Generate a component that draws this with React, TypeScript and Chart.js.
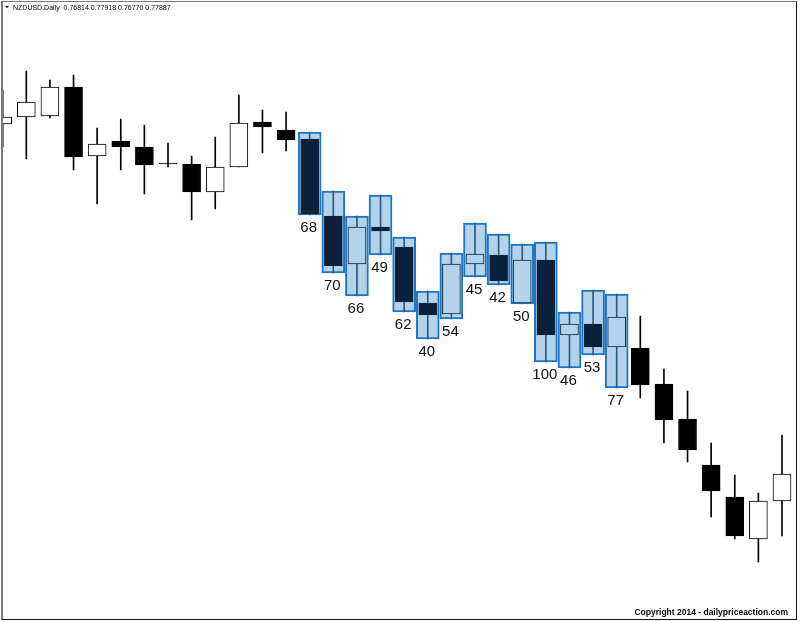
import React, { useEffect, useRef } from "react";
import { Chart, registerables } from "chart.js";

Chart.register(...registerables);

// 34 daily bars, NZDUSD
const days = [
  "1", "2", "3", "4", "5", "6", "7", "8", "9", "10", "11", "12", "13", "14", "15", "16", "17",
  "18", "19", "20", "21", "22", "23", "24", "25", "26", "27", "28", "29", "30", "31", "32", "33", "34",
];

const opens = [
  0.8492, 0.8506, 0.8508, 0.8566, 0.8428, 0.8458, 0.8446, 0.8414, 0.8412, 0.8356, 0.8406, 0.8496,
  0.848, 0.8462, 0.8308, 0.8212, 0.8286, 0.8246, 0.8134, 0.8112, 0.8212, 0.823, 0.8134, 0.822,
  0.807, 0.8092, 0.8046, 0.8044, 0.7972, 0.7902, 0.781, 0.7746, 0.7662, 0.7738,
];
const highs = [
  0.856, 0.8598, 0.858, 0.859, 0.8484, 0.8502, 0.849, 0.8454, 0.8428, 0.8466, 0.855, 0.852,
  0.8516, 0.8476, 0.8358, 0.8308, 0.835, 0.8266, 0.8158, 0.8234, 0.8294, 0.8272, 0.8252, 0.8256,
  0.8116, 0.816, 0.8152, 0.8108, 0.8002, 0.7958, 0.7854, 0.779, 0.7754, 0.787,
];
const lows = [
  0.8446, 0.8422, 0.8504, 0.84, 0.8332, 0.84, 0.8352, 0.8406, 0.83, 0.8322, 0.8406, 0.8434,
  0.8438, 0.831, 0.8194, 0.8148, 0.823, 0.8116, 0.8062, 0.8102, 0.8186, 0.817, 0.8132, 0.8016,
  0.8004, 0.803, 0.7964, 0.7944, 0.7854, 0.7816, 0.7706, 0.7662, 0.7616, 0.7668,
];
const closes = [
  0.8506, 0.8536, 0.8566, 0.8426, 0.8452, 0.8446, 0.841, 0.8412, 0.8356, 0.8406, 0.8494, 0.8486,
  0.846, 0.8312, 0.8208, 0.8286, 0.8278, 0.8136, 0.811, 0.8212, 0.8232, 0.8178, 0.822, 0.807,
  0.8092, 0.8046, 0.8106, 0.797, 0.79, 0.784, 0.7758, 0.7668, 0.7738, 0.7792,
];

// numbers written under the highlighted bars
const counts: (number | null)[] = [
  null, null, null, null, null, null, null, null, null, null, null, null, null,
  68, 70, 66, 49, 62, 40, 54, 45, 42, 50, 100, 46, 53, 77,
  null, null, null, null, null, null, null,
];

const priceMin = 0.7496;
const priceMax = 0.874;

const BOX_FILL = "#b3d3ea";
const BOX_EDGE = "#1f74c6";

const countLabels = {
  id: "countLabels",
  afterDatasetsDraw(chart: Chart) {
    const { ctx, scales } = chart;
    ctx.save();
    ctx.font = '15px "Liberation Sans", Arial, sans-serif';
    ctx.fillStyle = "#111";
    ctx.textAlign = "center";
    ctx.textBaseline = "alphabetic";
    counts.forEach((c, i) => {
      if (c == null) return;
      const x = scales.x.getPixelForValue(i) - 1;
      const y = scales.y.getPixelForValue(lows[i]) + 17;
      ctx.fillText(String(c), x, y);
    });
    ctx.restore();
  },
};

function CandleChart() {
  const chartRef = useRef<HTMLCanvasElement>(null);

  useEffect(() => {
    const ctx = chartRef.current?.getContext("2d");
    if (!ctx) return;

    const marked = (i: number) => counts[i] != null;
    const bull = (i: number) => closes[i] >= opens[i];
    const clip = { left: 1, top: false, right: false, bottom: false } as any;

    const chart = new Chart(ctx, {
      type: "bar",
      data: {
        labels: days,
        datasets: [
          {
            label: "body",
            data: days.map((_, i) => [Math.min(opens[i], closes[i]), Math.max(opens[i], closes[i])]) as any,
            barThickness: 18,
            grouped: false,
            order: 1,
            clip,
            borderSkipped: false,
            borderWidth: 1,
            backgroundColor: days.map((_, i) =>
              bull(i) ? (marked(i) ? BOX_FILL : "#ffffff") : marked(i) ? "#0b2039" : "#000000"
            ),
            borderColor: days.map((_, i) => (marked(i) ? "#13263a" : "#000000")),
          },
          {
            label: "wick",
            data: days.map((_, i) => [lows[i], highs[i]]) as any,
            barThickness: 1,
            grouped: false,
            order: 2,
            clip,
            borderWidth: 0,
            backgroundColor: days.map((_, i) => (marked(i) ? "#2d5a80" : "#000000")),
          },
          {
            label: "box",
            data: days.map((_, i) => (marked(i) ? [lows[i], highs[i]] : null)) as any,
            barThickness: 23,
            grouped: false,
            order: 3,
            clip,
            borderSkipped: false,
            borderWidth: 2,
            backgroundColor: BOX_FILL,
            borderColor: BOX_EDGE,
          },
        ],
      },
      options: {
        responsive: false,
        animation: false,
        events: [],
        layout: { padding: { left: 2.7, right: 18, top: 0, bottom: 0 } },
        plugins: { legend: { display: false }, tooltip: { enabled: false } },
        scales: {
          x: { type: "category", offset: false, display: false },
          y: { min: priceMin, max: priceMax, display: false },
        },
      },
      plugins: [countLabels],
    });

    return () => chart.destroy();
  }, []);

  return (
    <canvas
      ref={chartRef}
      width={800}
      height={622}
      style={{ position: "absolute", left: 0, top: 0, width: 800, height: 622 }}
    ></canvas>
  );
}

export default function App() {
  return (
    <div
      style={{
        position: "fixed",
        left: 0,
        top: 0,
        width: 800,
        height: 622,
        background: "#fff",
        overflow: "hidden",
      }}
    >
      <CandleChart />
      <div
        style={{
          position: "absolute",
          left: 1,
          top: 1,
          width: 796,
          height: 619,
          boxSizing: "border-box",
          borderLeft: "2px solid #7a7a7a",
          borderTop: "1px solid #7a7a7a",
          borderRight: "1px solid #111",
          borderBottom: "1px solid #111",
          pointerEvents: "none",
        }}
      />
      <div
        style={{
          position: "absolute",
          left: 4.5,
          top: 5.5,
          width: 0,
          height: 0,
          borderLeft: "2px solid transparent",
          borderRight: "2px solid transparent",
          borderTop: "2.5px solid #000",
        }}
      />
      <div
        style={{
          position: "absolute",
          left: 13,
          top: 4,
          fontFamily: '"Liberation Sans", Arial, sans-serif',
          fontSize: 7,
          lineHeight: "7px",
          whiteSpace: "pre",
          color: "#000",
        }}
      >
        {"NZDUSD.Daily  0.76814 0.77918 0.76770 0.77887"}
      </div>
      <div
        style={{
          position: "absolute",
          right: 12,
          top: 607.5,
          fontFamily: '"Liberation Sans", Arial, sans-serif',
          fontWeight: "bold",
          fontSize: 8.5,
          lineHeight: "8.5px",
          whiteSpace: "pre",
          color: "#000",
        }}
      >
        Copyright 2014 - dailypriceaction.com
      </div>
    </div>
  );
}
